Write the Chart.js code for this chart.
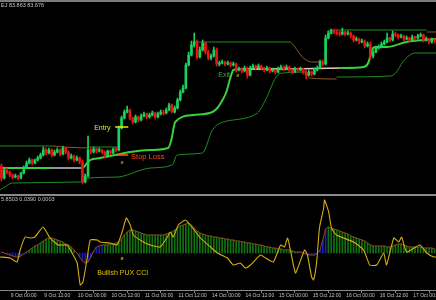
<!DOCTYPE html>
<html>
<head>
<meta charset="utf-8">
<script src="https://cdn.jsdelivr.net/npm/chart.js@4.4.1/dist/chart.umd.min.js"></script>
<style>
html,body{margin:0;padding:0;background:#000;}
#wrap{position:relative;width:436px;height:300px;background:#000;overflow:hidden;}
#topbar{position:absolute;left:0;top:0;width:436px;height:2px;background:#7c7c7c;}
#sep{position:absolute;left:0;top:194px;width:436px;height:2px;background:#8a8a8a;}
.pane{position:absolute;left:0;width:436px;}
#mainPane{top:2px;height:191px;}
#subPane{top:196px;height:104px;}
.pane canvas{position:absolute;left:0;top:0;}
.txt{position:absolute;white-space:nowrap;line-height:1;font-family:'Liberation Sans',Arial,sans-serif;}
.info{font-family:'Liberation Sans Narrow','Liberation Sans',Arial,sans-serif;color:#c4c4c4;font-size:5.5px;}
</style>
</head>
<body>
<div id="wrap">
  <div id="topbar"></div>
  <div id="mainPane" class="pane"><canvas id="mainChart" width="436" height="191"></canvas></div>
  <div id="sep"></div>
  <div id="subPane" class="pane"><canvas id="subChart" width="436" height="104"></canvas></div>
  <div class="txt info" style="left:1px;top:3px;">EJ 83.863 83.676</div>
  <div class="txt info" style="left:1px;top:197px;">5.8503 0.0390 0.0003</div>
</div>
<script>
// ---------- DATA ----------
const timeLabels = ['9 Oct 00:00','9 Oct 12:00','10 Oct 00:00','10 Oct 12:00','11 Oct 00:00','11 Oct 12:00','14 Oct 00:00','14 Oct 12:00','15 Oct 00:00','15 Oct 12:00','16 Oct 00:00','16 Oct 12:00','17 Oct 00:00'];
const tickBars = [3,15,27,39,51,63,75,87,99,111,123,135,147];

const opens = [27,15,23,21,18,16,17,15,20,26,
 30,33,30,33,35,38,43,40,43,38,
 41,43,39,45,41,35,37,33,35,31,
 11,17,43,41,44,42,43,41,37,42,
 40,44,43,65,75,81,83,75,71,76,
 73,77,79,76,78,80,76,79,81,80,
 83,88,81,85,93,101,105,128,138,148,
 151,136,143,150,141,135,137,143,129,130,
 131,129,130,128,129,123,124,122,125,118,
 125,127,125,127,125,123,125,122,123,121,
 124,126,124,126,123,121,124,123,124,121,
 118,121,119,123,125,131,129,155,160,162,
 161,160,159,161,159,160,157,153,154,151,
 152,147,149,137,141,145,146,149,151,155,
 153,159,158,156,157,154,155,153,156,155,
 157,158,153,154,151,153];
const highs = [29,25,25,22,19,19,18,21,27,32,
 35,34,34,37,40,46,45,45,44,43,
 45,44,47,46,42,39,38,37,36,33,
 19,57,45,46,45,45,44,42,43,43,
 45,46,67,77,83,87,84,76,78,77,
 79,81,80,80,82,81,81,83,83,85,
 90,89,87,95,103,108,130,141,152,160,
 153,146,153,151,143,139,146,145,132,133,
 132,132,131,131,130,126,125,127,126,127,
 129,128,129,128,126,127,126,125,124,126,
 128,127,128,127,124,126,125,126,125,123,
 123,122,125,127,133,133,158,162,164,164,
 163,162,165,162,162,161,158,156,155,154,
 153,151,151,143,147,148,151,153,160,156,
 162,161,159,159,158,157,156,158,157,159,
 160,159,156,155,155,154];
const lows = [12,14,19,16,14,15,13,14,19,25,
 29,28,29,32,34,37,38,39,36,37,
 40,37,38,39,33,34,31,32,29,9,
 10,16,39,40,40,41,39,35,36,38,
 39,41,42,64,74,80,73,69,70,71,
 72,76,74,75,77,74,75,78,78,79,
 82,80,80,84,92,100,104,127,137,146,
 134,135,142,139,133,133,136,127,127,129,
 127,128,126,127,121,122,120,121,115,117,
 124,123,124,123,121,122,120,121,119,120,
 123,122,123,121,119,120,121,122,119,114,
 117,117,118,122,124,127,128,154,159,159,
 158,157,158,157,158,155,151,152,149,150,
 145,146,134,135,140,144,145,148,150,151,
 152,156,154,155,152,153,151,152,153,154,
 156,151,152,149,150,150];
const closes = [15,23,21,18,16,17,15,20,26,30,
 33,30,33,35,38,43,40,43,38,41,
 43,39,45,41,35,37,33,35,31,11,
 17,43,41,44,42,43,41,37,42,40,
 44,43,65,75,81,83,75,71,76,73,
 77,79,76,78,80,76,79,81,80,83,
 88,81,85,93,101,105,128,138,148,151,
 136,143,150,141,135,137,143,129,130,131,
 129,130,128,129,123,124,122,125,118,125,
 127,125,127,125,123,125,122,123,121,124,
 126,124,126,123,121,124,123,124,121,118,
 121,119,123,125,131,129,155,160,162,161,
 160,159,161,159,160,157,153,154,151,152,
 147,149,137,141,145,146,149,151,155,153,
 159,158,156,157,154,155,153,156,155,157,
 158,153,154,151,153,152];

// channel lines: [bar, value] vertices
const upperGreenA = [[-0.5,47],[18.5,47]];
const upperBrownA = [[18.5,47],[22,46],[30.7,45]];
const upperGreenB = [[30.7,46],[41.4,46]];
const upperGreenC = [[68.5,151],[103.4,151]];
const upperBrownB = [[103.4,151],[104.8,147],[106.5,140],[108.5,134],[111,131],[115,131]];
const upperGreenD = [[116.5,161],[118,163],[152.2,163]];
const upperBrownC = [[152.2,161],[155.8,161]];

const lowerGreenA = [[-0.5,3],[4.2,10],[28.2,11],[31,15],[41.8,16],[46,19],[50,23],[53.3,25],[61.1,28],[62.9,38],[71.9,40],[75.5,63],[78.4,70],[91.6,80],[94.5,93],[98.8,118],[100.9,120],[109.2,121]];
const lowerBrown = [[109.2,121],[110.3,115],[119.9,114]];
const lowerGreenB = [[119.9,116],[139.3,117],[141.4,121],[143.6,131],[145.7,137],[147.9,140],[155.8,140]];

const trailGreenA = [[-0.5,25],[17.4,25]];
const trailWhite = [[17.4,25],[29.2,25]];
const trailGreenB = [[29.2,25],[30.7,30],[31.8,33],[35.3,35],[40.7,38],[46.1,41],[53.3,43],[59.7,45],[60.8,53],[62.2,71],[68.7,78],[75.5,81],[77.3,85],[79.1,93],[80.5,101],[81.9,115],[83,123],[85.5,124]];
const trailPale = [[85.5,124],[103.4,124]];
const trailPink = [[103.4,124],[121.4,125]];
const trailGreenC = [[121.4,125],[129.6,126],[131.4,131],[132.5,143],[133.9,146],[137.8,146],[145,151],[155.8,154]];

const entryLevel = [[40.7,66],[45.4,66]];
const stopLevel = [[41.4,38],[45.4,38]];

// sub window (PUX CCI)
const cciSignal = [5,0,-5,-10,-15,-20,-20,-15,-5,5,
 15,25,35,40,50,60,70,75,75,70,
 65,60,55,45,40,30,15,0,-20,-40,
 -50,-45,-20,10,30,35,40,40,40,45,
 45,50,55,70,90,105,115,115,110,105,
 100,95,90,90,90,90,90,90,90,95,
 100,105,115,125,135,140,145,150,140,125,
 110,100,95,90,85,85,80,80,75,75,
 70,70,65,65,60,60,55,55,50,50,
 45,45,40,40,35,30,30,25,25,20,
 20,15,15,15,10,5,5,5,0,-5,
 -10,-10,-10,0,15,65,120,130,125,120,
 115,110,105,100,95,85,80,75,70,65,
 60,50,40,35,35,35,35,35,30,30,
 35,40,45,45,40,35,30,30,30,30,
 30,25,25,25,25,20];
const cciBlueBars = [0,1,2,3,4,5,6,7,8,27,28,29,30,31,32,33,34,35,36,107,108,109,110,111,112,113,114,115,116];
const cciFast = [[-0.5,-20],[3.1,-25],[5.6,-45],[6.7,15],[8.5,80],[10.3,75],[12,80],[14.9,130],[17.4,75],[20.3,40],[23.5,40],[25.3,0],[27.1,-50],[28.2,-160],[29.2,-145],[30.7,-25],[31.8,65],[34.3,65],[35.3,55],[38.9,50],[41.4,40],[43.2,105],[44.7,175],[46.1,140],[47.2,90],[50.8,55],[53.3,40],[56.8,30],[59.4,80],[60.4,105],[61.5,80],[63.3,140],[65.8,165],[67.6,140],[71.2,75],[74.8,30],[77.3,0],[80.9,-25],[83,-60],[85.5,-50],[87.3,-75],[89.1,-60],[92.7,-10],[94.5,-25],[97.3,-45],[99.9,40],[101.3,30],[102.4,75],[103.4,15],[105.2,-100],[106.7,-50],[108.5,15],[109.5,-10],[111,-120],[111.7,-135],[112.8,-45],[113.8,125],[115.3,225],[115.6,265],[117.1,205],[118.1,125],[119.9,90],[126,55],[129.6,15],[131.8,-60],[134.3,-60],[136.8,0],[137.8,-60],[140.4,75],[142.2,55],[143.2,80],[145,5],[149.7,40],[152.2,0],[154.7,-20],[155.8,-20]];

// text notes anchored in data space
const mainNotes = [
  {text:'Entry', bar:33.2, value:66, color:'#e8e800', size:7},
  {text:'Stop Loss', bar:46.4, value:36, color:'#ff4a14', size:7.5},
  {text:'ø', bar:42.6, value:31, color:'#e0a010', size:5},
  {text:'Exit', bar:77.6, value:118.5, color:'#3aa84a', size:7},
  {text:'ø', bar:84, value:118, color:'#c8a818', size:5}
];
const subNotes = [
  {text:'Bullish PUX CCI', bar:34.3, value:-95, color:'#e2c200', size:7},
  {text:'ø', bar:42.6, value:-25, color:'#e2c200', size:5}
];

// ---------- RENDER ----------
Chart.defaults.animation = false;
const BULL = '#19d15c', BEAR = '#ee1111';
const GREEN = '#228b22', BROWN = '#8b5a2b', TRAIL = '#3ccf3c';
const idx = closes.map((_, i) => i);
const candleColors = idx.map(i => closes[i] >= opens[i] ? BULL : BEAR);
const pts = a => a.map(p => ({x: p[0], y: p[1]}));
function line(a, color, width, order, smooth) {
  return {type:'line', data: pts(a), borderColor: color, borderWidth: width, pointRadius: 0,
    fill: false, order: order, cubicInterpolationMode: smooth ? 'monotone' : 'default', tension: 0};
}
function notesPlugin(list, paneId) {
  return {
    id: 'notes_' + paneId,
    afterRender(chart) {
      const pane = document.getElementById(paneId);
      list.forEach(n => {
        if (!n.el) {
          const el = document.createElement('div');
          el.className = 'txt';
          el.textContent = n.text;
          el.style.color = n.color;
          el.style.fontSize = n.size + 'px';
          pane.appendChild(el);
          n.el = el;
        }
        n.el.style.left = chart.scales.x.getPixelForValue(n.bar) + 'px';
        n.el.style.top = (chart.scales.y.getPixelForValue(n.value) - n.size / 2) + 'px';
      });
    }
  };
}

new Chart(document.getElementById('mainChart'), {
  type: 'bar',
  data: {
    datasets: [
      {type:'bar', data: idx.map(i => ({x:i, y:[Math.min(opens[i],closes[i]), Math.max(opens[i],closes[i])]})),
        backgroundColor: candleColors, barThickness: 2, minBarLength: 1, grouped: false, order: 0, borderWidth: 0},
      {type:'bar', data: idx.map(i => ({x:i, y:[lows[i], highs[i]]})),
        backgroundColor: candleColors, barThickness: 1, grouped: false, order: 1, borderWidth: 0},
      line(entryLevel, '#e8e800', 1.5, -1, false),
      line(stopLevel, '#ff5a14', 1.5, -1, false),
      line(upperGreenA, GREEN, 1, 5, true),
      line(upperBrownA, BROWN, 1, 5, true),
      line(upperGreenB, GREEN, 1, 5, true),
      line(upperGreenC, GREEN, 1, 5, true),
      line(upperBrownB, BROWN, 1, 5, true),
      line(upperGreenD, GREEN, 1, 5, true),
      line(upperBrownC, BROWN, 1, 5, true),
      line(lowerGreenA, GREEN, 1, 5, true),
      line(lowerBrown, BROWN, 1, 5, true),
      line(lowerGreenB, GREEN, 1, 5, true),
      line(trailGreenA, TRAIL, 2, 4, true),
      line(trailWhite, '#c4c4c4', 1.6, 4, true),
      line(trailGreenB, TRAIL, 2, 4, true),
      line(trailPale, '#a0dc98', 1.8, 4, true),
      line(trailPink, '#e4cbc4', 1.6, 4, true),
      line(trailGreenC, TRAIL, 2, 4, true)
    ]
  },
  options: {
    responsive: false, events: [],
    layout: {padding: 0},
    plugins: {legend: {display: false}, tooltip: {enabled: false}},
    scales: {
      x: {type: 'linear', min: -0.5, max: 155.5, offset: false, display: false},
      y: {type: 'linear', min: 0, max: 191, display: false}
    }
  },
  plugins: [notesPlugin(mainNotes, 'mainPane')]
});

const histColors = idx.map(i => cciBlueBars.includes(i) ? '#1e1eaa' : '#127212');
new Chart(document.getElementById('subChart'), {
  type: 'bar',
  data: {
    datasets: [
      {type:'bar', data: idx.map(i => ({x:i, y:cciSignal[i]})), backgroundColor: histColors,
        barThickness: 1, grouped: false, order: 3, borderWidth: 0},
      {type:'line', data: idx.map(i => ({x:i, y:cciSignal[i]})), borderColor: '#8b4a22', borderWidth: 1,
        pointRadius: 0, fill: false, order: 2},
      {type:'line', data: pts(cciFast), borderColor: '#d6ae12', borderWidth: 1.1, pointRadius: 0,
        fill: false, order: 1, tension: 0.15}
    ]
  },
  options: {
    responsive: false, events: [],
    layout: {padding: 0},
    plugins: {legend: {display: false}, tooltip: {enabled: false}},
    scales: {
      x: {
        type: 'linear', min: -0.5, max: 155.5, offset: false, position: 'bottom',
        afterBuildTicks: s => { s.ticks = tickBars.map(v => ({value: v})); },
        afterFit: s => { s.height = 10; s.paddingLeft = 0; s.paddingRight = 0; },
        ticks: {autoSkip: false, maxRotation: 0, minRotation: 0, align: 'start', labelOffset: 1, padding: 0,
          color: '#c4c4c4', font: {family: "'Liberation Sans Narrow','Liberation Sans',Arial,sans-serif", size: 5},
          callback: (v, i) => timeLabels[i]},
        grid: {display: true, drawOnChartArea: false, drawTicks: true, tickLength: 3, color: '#8a8a8a'},
        border: {display: true, color: '#8a8a8a', width: 1}
      },
      y: {type: 'linear', min: -185, max: 285, display: false}
    }
  },
  plugins: [notesPlugin(subNotes, 'subPane')]
});
</script>
</body>
</html>
